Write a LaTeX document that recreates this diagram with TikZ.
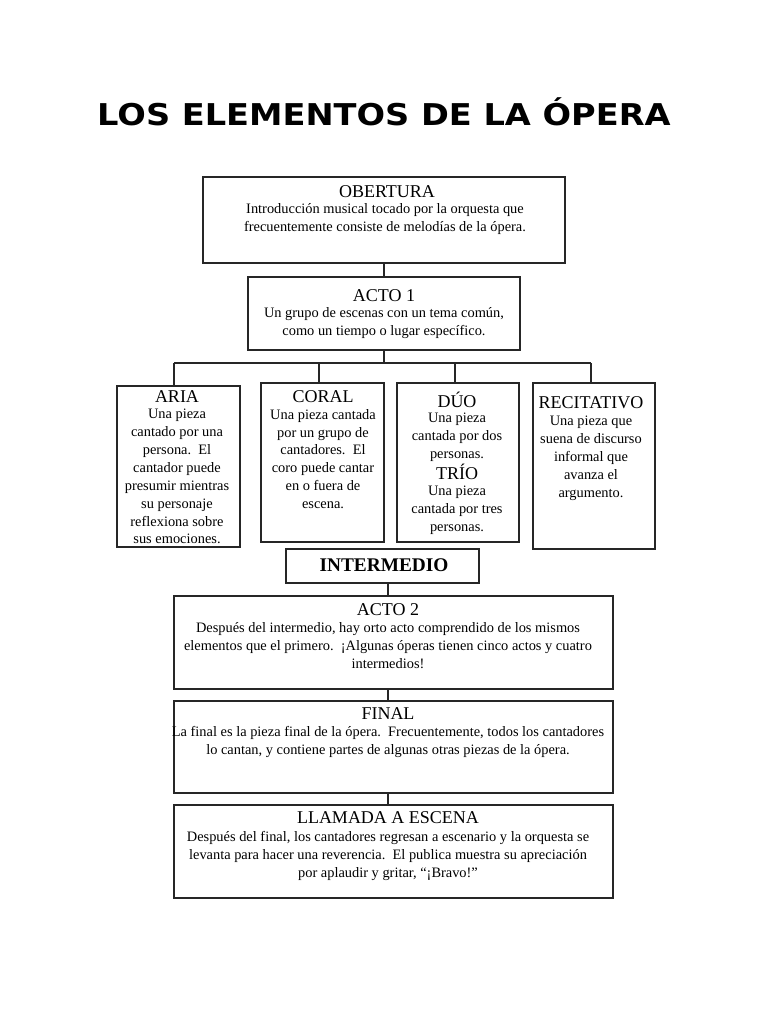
\documentclass[tikz,border=0pt]{standalone}
\usepackage{fontspec}
\setmainfont{Liberation Serif}
\newfontfamily\titlefont{DejaVu Sans}
\begin{document}
\begin{tikzpicture}[x=0.75pt,y=-0.75pt,
  box/.style={draw=black!85,line width=0.9pt,inner sep=0pt},
  conn/.style={draw=black!85,line width=0.9pt},
  head/.style={inner sep=0pt,font=\fontsize{13.5}{15}\selectfont},
  body/.style={inner sep=0pt,align=center,font=\fontsize{10.8}{13.4}\selectfont}]
\useasboundingbox[fill=white] (0,0) rectangle (768,1024);
% title
\node[inner sep=0pt] (title) at (384,112) {\scalebox{1.12}[1]{\titlefont\bfseries\fontsize{22.5}{26}\selectfont LOS ELEMENTOS DE LA ÓPERA}};
% boxes (sizes in pt = 0.75 px)
\node[box,minimum width=271.5pt,minimum height=64.5pt] (ob) at (384,220) {};
\node[box,minimum width=204pt,minimum height=54.75pt] (a1) at (384,313.5) {};
\node[box,minimum width=92.25pt,minimum height=120.75pt] (aria) at (178.5,466.5) {};
\node[box,minimum width=92.25pt,minimum height=119.25pt] (coral) at (322.5,462.5) {};
\node[box,minimum width=91.5pt,minimum height=119.25pt] (duo) at (458,462.5) {};
\node[box,minimum width=91.5pt,minimum height=124.5pt] (rec) at (594,466) {};
\node[box,minimum width=144.75pt,minimum height=25.5pt] (inter) at (382.5,566) {};
\node[box,minimum width=329.25pt,minimum height=69.75pt] (a2) at (393.5,642.5) {};
\node[box,minimum width=329.25pt,minimum height=69pt] (fin) at (393.5,747) {};
\node[box,minimum width=329.25pt,minimum height=69.75pt] (llam) at (393.5,851.5) {};
% connectors
\draw[conn] (ob.south) -- (a1.north);
\coordinate (bar) at (384,363);
\coordinate (jA) at (174,363);
\coordinate (jC) at (319,363);
\coordinate (jD) at (455,363);
\coordinate (jR) at (591,363);
\draw[conn] (a1.south) -- (bar);
\draw[conn] (jA) -- (jR);
\draw[conn] (jA) -- (jA |- aria.north);
\draw[conn] (jC) -- (jC |- coral.north);
\draw[conn] (jD) -- (jD |- duo.north);
\draw[conn] (jR) -- (jR |- rec.north);
\coordinate (cx) at (388,0);
\draw[conn] (cx |- inter.south) -- (cx |- a2.north);
\draw[conn] (cx |- a2.south) -- (cx |- fin.north);
\draw[conn] (cx |- fin.south) -- (cx |- llam.north);
% texts
\node[head] (tob) at (387,192) {OBERTURA};
\node[body,anchor=north] (bob) at (385,203) {Introducción musical tocado por la orquesta que\\frecuentemente consiste de melodías de la ópera.};
\node[head] (ta1) at (384,296) {ACTO 1};
\node[body,anchor=north] (ba1) at (384,307) {Un grupo de escenas con un tema común,\\como un tiempo o lugar específico.};
\node[head] (taria) at (177,397) {ARIA};
\node[body,anchor=north] (baria) at (177,409) {Una pieza\\cantado por una\\persona.\ \ El\\cantador puede\\presumir mientras\\su personaje\\reflexiona sobre\\sus emociones.};
\node[head] (tcoral) at (323,397) {CORAL};
\node[body,anchor=north] (bcoral) at (323,409) {Una pieza cantada\\por un grupo de\\cantadores.\ \ El\\coro puede cantar\\en o fuera de\\escena.};
\node[head] (tduo) at (457,400) {DÚO};
\node[body,anchor=north] (bduo) at (457,413) {Una pieza\\cantada por dos\\personas.};
\node[head] (ttrio) at (457,472) {TRÍO};
\node[body,anchor=north] (btrio) at (457,486) {Una pieza\\cantada por tres\\personas.};
\node[head] (trec) at (591,403) {RECITATIVO};
\node[body,anchor=north] (brec) at (591,416) {Una pieza que\\suena de discurso\\informal que\\avanza el\\argumento.};
\node[inner sep=0pt,font=\bfseries\fontsize{14.5}{16}\selectfont] (tinter) at (384,565) {INTERMEDIO};
\node[head] (ta2) at (388,610) {ACTO 2};
\node[body,anchor=north] (ba2) at (388,622) {Después del intermedio, hay orto acto comprendido de los mismos\\elementos que el primero.\ \ ¡Algunas óperas tienen cinco actos y cuatro\\intermedios!};
\node[head] (tfin) at (388,714) {FINAL};
\node[body,anchor=north] (bfin) at (388,726) {La final es la pieza final de la ópera.\ \ Frecuentemente, todos los cantadores\\lo cantan, y contiene partes de algunas otras piezas de la ópera.};
\node[head] (tllam) at (388,818) {LLAMADA A ESCENA};
\node[body,anchor=north] (bllam) at (388,831) {Después del final, los cantadores regresan a escenario y la orquesta se\\levanta para hacer una reverencia.\ \ El publica muestra su apreciación\\por aplaudir y gritar, “¡Bravo!”};
\end{tikzpicture}
\end{document}
